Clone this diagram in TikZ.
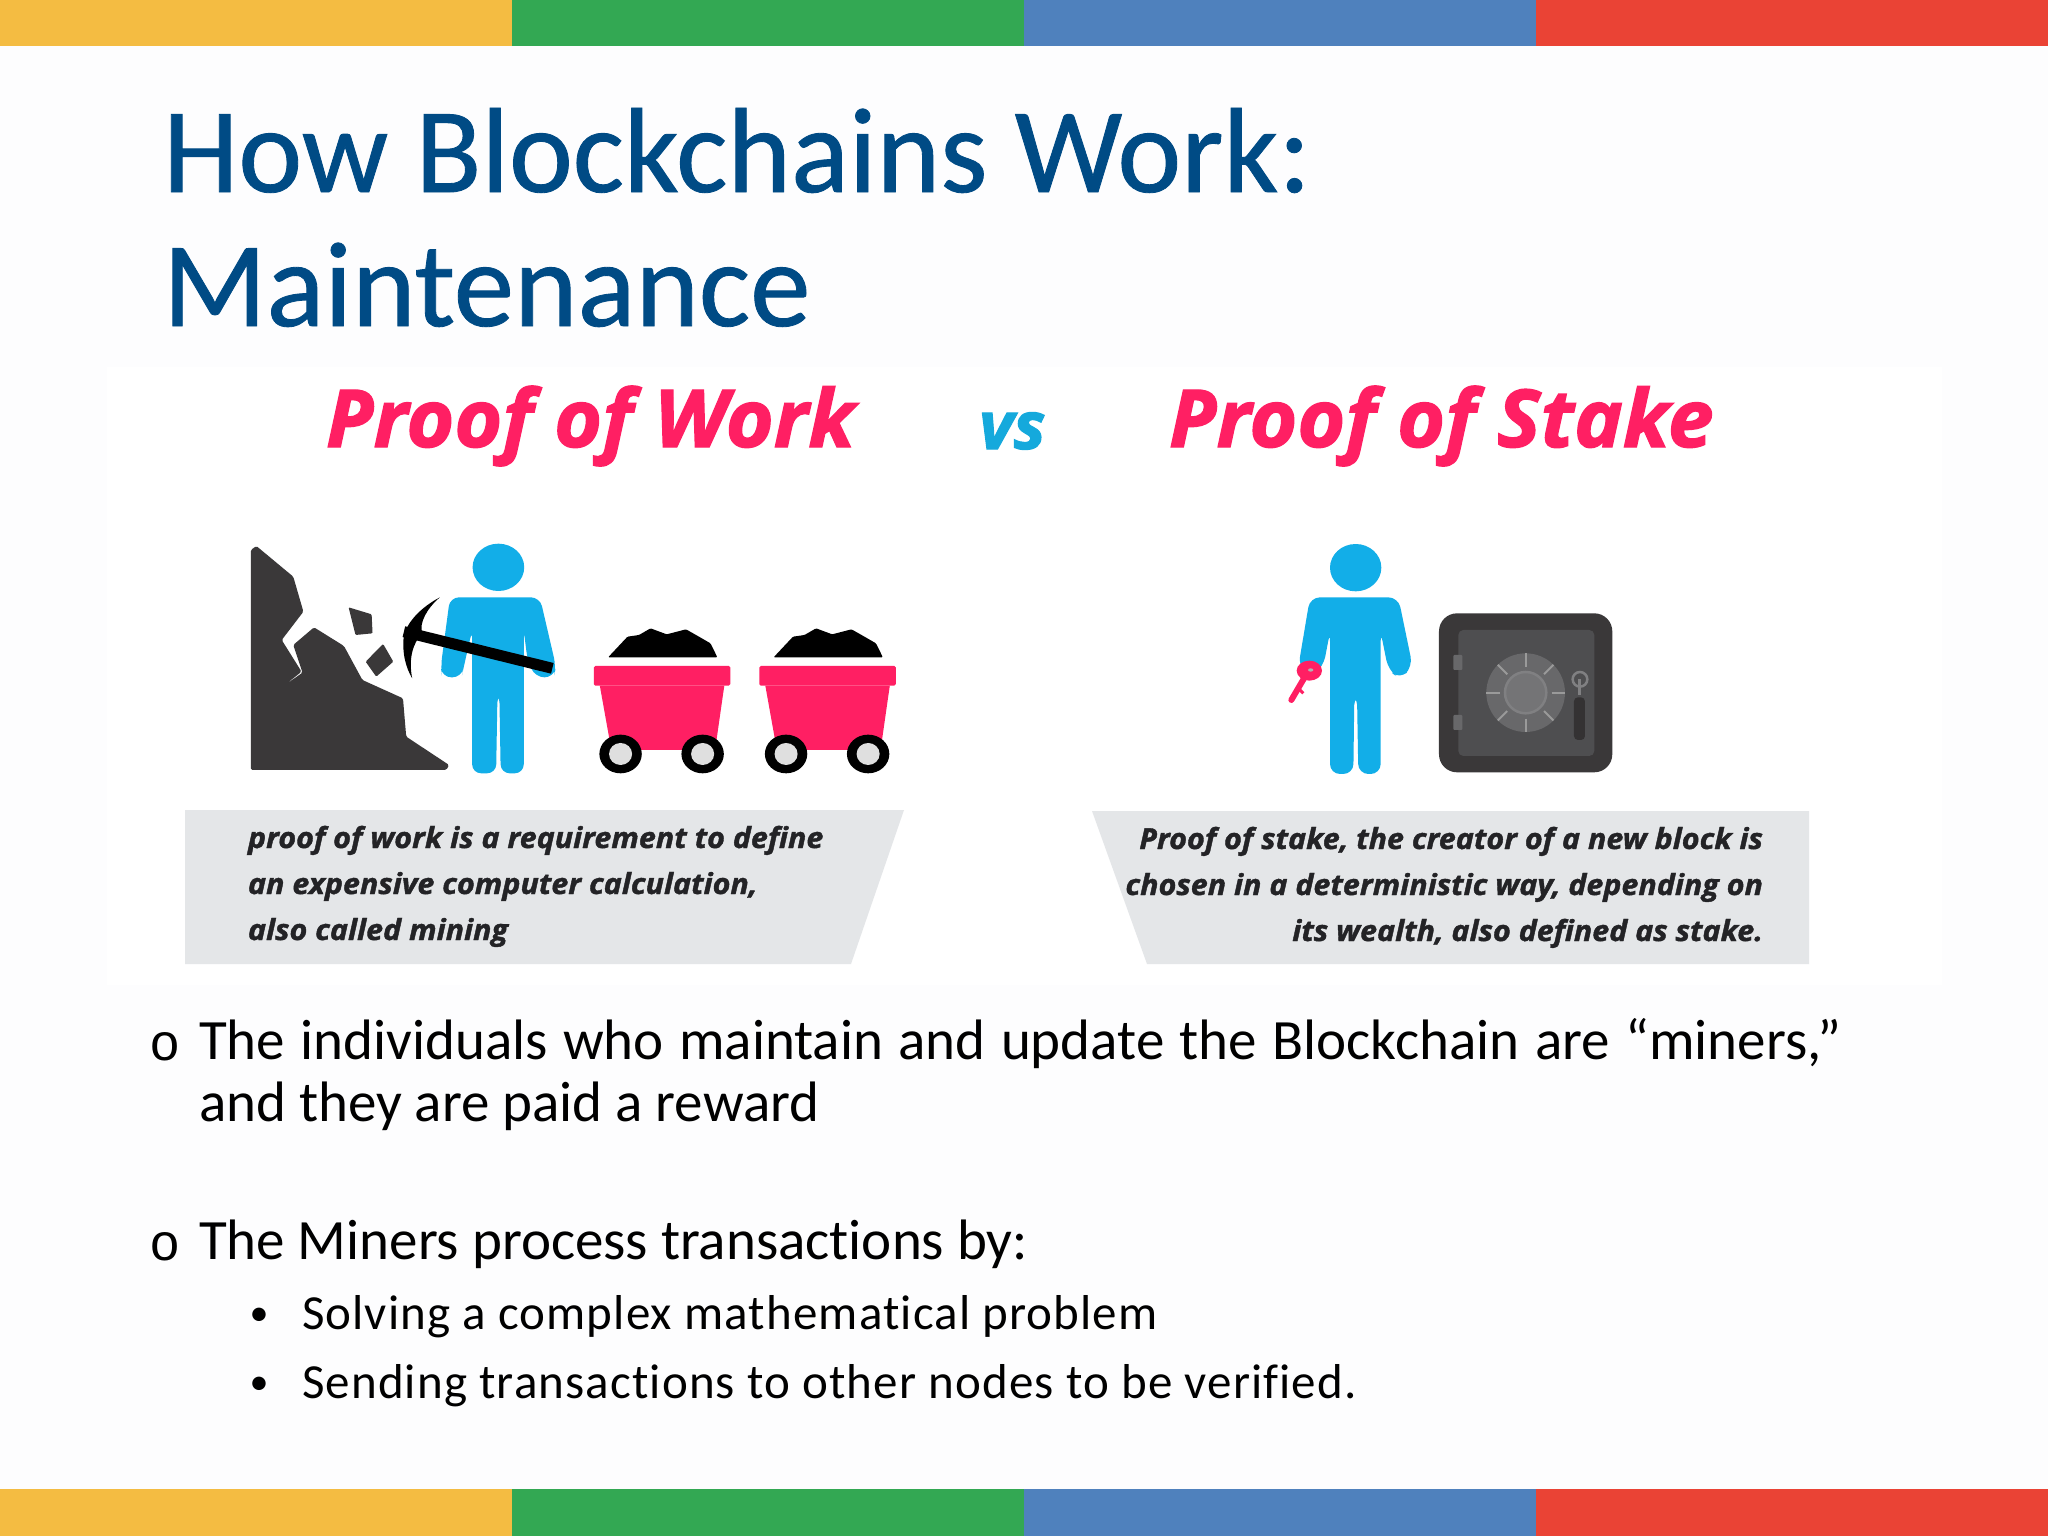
\documentclass[tikz,border=0pt]{standalone}
\usepackage{fontspec}
\usetikzlibrary{calc}
\setmainfont[Ligatures=NoCommon]{Carlito}
\newfontfamily\titlef[FakeBold=0.7,Ligatures=NoCommon]{Carlito}
\newfontfamily\subf[LetterSpace=2.3,Ligatures=NoCommon]{Carlito}
\newfontfamily\monof{Liberation Mono}
\newfontfamily\osans[BoldItalicFont={Open Sans Bold Italic},BoldItalicFeatures={FakeBold=1.6,FakeStretch=1.025}]{Open Sans}
\newfontfamily\ocap[BoldItalicFont={Open Sans Bold Italic},BoldItalicFeatures={FakeBold=1.4,FakeStretch=1.05}]{Open Sans}
\definecolor{bgc}{HTML}{FDFDFE}
\definecolor{barA}{HTML}{F4BC42}
\definecolor{barB}{HTML}{33A853}
\definecolor{barC}{HTML}{4F81BD}
\definecolor{barD}{HTML}{EA4335}
\definecolor{titlec}{HTML}{004B85}
\definecolor{pinkc}{HTML}{FF1F63}
\definecolor{bluec}{HTML}{12AEE8}
\definecolor{vsc}{HTML}{15A9DC}
\definecolor{rockc}{HTML}{3A3839}
\definecolor{boxc}{HTML}{E4E6E8}
\definecolor{capc}{HTML}{232326}
\definecolor{safein}{HTML}{4E4E50}
\definecolor{dialc}{HTML}{68686A}
\definecolor{tickc}{HTML}{9A9A9A}
\definecolor{ringc}{HTML}{808082}
\definecolor{hubc}{HTML}{747476}
\tikzset{
  lbl/.style={anchor=base west,inner sep=0pt,outer sep=0pt,text=black},
  titlet/.style={lbl,text=titlec,font=\titlef\fontsize{121}{121}\selectfont},
  body/.style={lbl,font=\fontsize{57}{57}\selectfont},
  subb/.style={lbl,font=\subf\fontsize{49}{49}\selectfont},
  bulo/.style={lbl,anchor=base,font=\monof\fontsize{52}{52}\selectfont},
  buld/.style={lbl,anchor=base,font=\fontsize{38}{38}\selectfont},
  headg/.style={lbl,text=pinkc,font=\osans\bfseries\itshape\fontsize{80}{80}\selectfont},
  capt/.style={lbl,text=capc,font=\ocap\bfseries\itshape\fontsize{29}{29}\selectfont},
  captr/.style={capt,anchor=base east},
  cartpart/.style={fill=pinkc},
  zone/.style={shift={(219.5,520)},x=0.461pt,y=-0.3333pt},
  ztwo/.style={shift={(1260,520)},x=0.3333pt,y=-0.3333pt},
}
\begin{document}
\begin{tikzpicture}[x=1pt,y=-1pt]
\useasboundingbox (0,0) rectangle (2048,1536);
\fill[bgc] (0,0) rectangle (2048,1536);
\foreach \yy/\hh in {0/46,1489/1536}{
  \fill[barA] (0,\yy) rectangle (512,\hh);
  \fill[barB] (512,\yy) rectangle (1024,\hh);
  \fill[barC] (1024,\yy) rectangle (1536,\hh);
  \fill[barD] (1536,\yy) rectangle (2048,\hh);
}
\fill[white] (107,367) rectangle (1942,985);
\node[titlet] (t1) at (163,192) {How Blockchains Work:};
\node[titlet] (t2) at (163,326) {Maintenance};
\node[headg] (h1) at (326,447) {Proof of Work};
\node[headg,text=vsc,font=\osans\bfseries\itshape\fontsize{66}{66}\selectfont] (h2) at (979,449) {vs};
\node[headg] (h3) at (1169,447) {Proof of Stake};
% mining figure
\begin{scope}[zone]
\fill[rockc,rounded corners=1.5pt] (68,90)--(80,78)--(160,170)--(182,275)--(135,360)--(178,455)--(140,497)--(180,458)--(160,375)--(205,322)--(270,378)--(310,480)--(398,535)--(405,650)--(498,735)--(492,750)--(68,750)--cycle;
\fill[rockc,rounded corners=1pt] (280,262)--(330,283)--(332,340)--(295,345)--cycle;
\fill[rockc,rounded corners=1pt] (355,372)--(377,425)--(340,470)--(317,425)--cycle;
\fill[bluec] (605,142) ellipse [x radius=56,y radius=71];
\fill[bluec,rounded corners=9pt] (500,232)--(695,232)--(730,440)--(725,472)--(685,472)--(668,420)--(660,330)--(660,760)--(610,760)--(607,520)--(603,520)--(600,760)--(548,760)--(548,330)--(530,440)--(525,472)--(483,472)--(480,440)--cycle;
\draw[black,line width=11pt] (400,335)--(722,445);
\fill[black] (478,232) .. controls (440,260) and (410,300) .. (400,345) .. controls (395,400) and (405,445) .. (418,475) .. controls (410,420) and (418,370) .. (440,340) .. controls (432,310) and (450,265) .. (478,232) -- cycle;
\foreach \dx in {0,359}{
  \fill[black,rounded corners=1pt] (843+\dx,412)--(885+\dx,350)--(910+\dx,345)--(935+\dx,325)--(970+\dx,343)--(1012+\dx,328)--(1040+\dx,350)--(1065+\dx,370)--(1080+\dx,412)--cycle;
  \fill[cartpart] (825+\dx,497)--(1095+\dx,497)--(1075+\dx,690)--(850+\dx,690)--cycle;
  \fill[cartpart,rounded corners=1.5pt] (812+\dx,438) rectangle (1108+\dx,497);
  \foreach \wx in {870,1048}{
    \fill[black] (\wx+\dx,702) ellipse [x radius=46,y radius=58];
    \fill[gray!25] (\wx+\dx,702) ellipse [x radius=25,y radius=33];
  }
}
\end{scope}
% stake figure
\begin{scope}[ztwo]
\fill[bluec] (287,143) ellipse [x radius=77,y radius=71];
\fill[bluec,rounded corners=10pt] (150,232)--(415,232)--(458,440)--(420,478)--(385,450)--(362,335)--(362,762)--(295,762)--(291,525)--(283,525)--(280,762)--(210,762)--(210,335)--(190,440)--(150,472)--(115,440)--cycle;
\fill[pinkc] (148,452) ellipse [x radius=38,y radius=30];
\draw[pinkc,line width=6pt,line cap=round] (135,470)--(94,540);
\draw[pinkc,line width=3pt] (115,505)--(130,520);
\fill[gray!60] (152,450) ellipse [x radius=8,y radius=5];
\fill[rockc,rounded corners=18pt] (537,280) rectangle (1057,757);
\fill[safein,rounded corners=5pt] (595,330) rectangle (1003,708);
\fill[dialc,rounded corners=1pt] (580,405) rectangle (607,450);
\fill[dialc,rounded corners=1pt] (580,585) rectangle (607,630);
\fill[dialc] (797,518) circle [radius=118];
\foreach \aa in {0,45,...,315}{
  \draw[tickc,line width=2pt] ($(797,518)+(\aa:78)$)--($(797,518)+(\aa:118)$);
}
\draw[ringc,line width=2.5pt,fill=hubc] (797,518) circle [radius=62];
\draw[ringc,line width=2.5pt] (960,478) circle [radius=22];
\draw[ringc,line width=3pt] (960,478)--(960,525);
\fill[rockc!90!black,rounded corners=4pt] (942,532) rectangle (975,660);
\end{scope}
% captions
\fill[boxc] (185,810)--(904,810)--(851,964)--(185,964)--cycle;
\fill[boxc] (1092,811)--(1809,811)--(1809,964)--(1147,964)--cycle;
\node[capt] (c1) at (248,848) {proof of work is a requirement to define};
\node[capt] (c2) at (248,894) {an expensive computer calculation,};
\node[capt] (c3) at (248,940) {also called mining};
\node[captr] (c4) at (1763,849) {Proof of stake, the creator of a new block is};
\node[captr] (c5) at (1763,895) {chosen in a deterministic way, depending on};
\node[captr] (c6) at (1763,941) {its wealth, also defined as stake.};
% bullets
\node[bulo] (b1o) at (165,1060) {o};
\node[body] (b1) at (199,1059) {\hbox to 1643pt{The individuals who maintain and update the Blockchain are “miners,”}};
\node[body] (b1b) at (199,1121) {and they are paid a reward};
\node[bulo] (b2o) at (165,1260) {o};
\node[body] (b2) at (199,1259) {The Miners process transactions by:};
\node[buld] (s1o) at (259,1325) {•};
\node[subb] (s1) at (302,1329) {Solving a complex mathematical problem};
\node[buld] (s2o) at (259,1394) {•};
\node[subb] (s2) at (302,1398) {Sending transactions to other nodes to be verified.};
\end{tikzpicture}
\end{document}
